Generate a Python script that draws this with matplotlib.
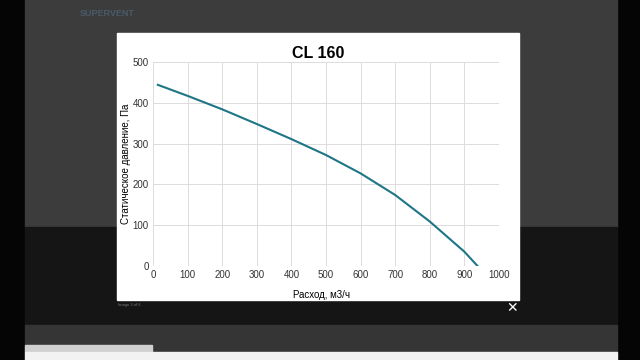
import matplotlib.pyplot as plt
from matplotlib.patches import Rectangle

# fan curve CL 160
flow = [14, 100, 200, 300, 400, 500, 600, 700, 800, 900, 938]
pressure = [444, 417, 384, 348, 311, 272, 227, 174, 109, 35, 0]

title = 'CL 160'
xlabel = 'Расход, м3/ч'
ylabel = 'Статическое давление, Па'

plt.rcParams['font.family'] = ['Liberation Sans', 'DejaVu Sans']

fig = plt.figure(figsize=(6.4, 3.6), dpi=100, facecolor='#050505')

#dimmed page behind the modal
def band(x0, y0, x1, y1, color):
    fig.patches.append(Rectangle((x0 / 640, 1 - y1 / 360), (x1 - x0) / 640, (y1 - y0) / 360,
                                 transform=fig.transFigure, color=color, zorder=-5))

band(25, 0, 617, 227, '#3c3c3c')
band(25, 227, 617, 325, '#151515')
band(25, 325, 617, 352, '#353535')
band(25, 345, 152, 352, '#cfcfcf')
band(25, 352, 617, 360, '#f2f2f2')
band(117, 33, 519, 300, '#ffffff')

fig.text(107 / 640, 1 - 14 / 360, 'SUPERVENT', color='#4a5a68', fontsize=6.5, fontweight='bold',
         ha='center', va='center')
fig.text(512 / 640, 1 - 308 / 360, '\u2715', color='white', fontsize=10, ha='center', va='center',
         family='DejaVu Sans')
fig.text(118 / 640, 1 - 305 / 360, 'Image 3 of 6', color='#777777', fontsize=3, ha='left', va='center')

ax = fig.add_axes([153 / 640, 1 - 266 / 360, 346 / 640, 204 / 360])
ax.plot(flow, pressure, color='#1d7686', linewidth=1.5, zorder=3)

ax.set_xlim(0, 1000)
ax.set_ylim(0, 500)
ax.set_xticks(range(0, 1001, 100))
ax.set_yticks(range(0, 501, 100))
ax.grid(color='#dcdcdc', linewidth=0.7)
for s in ax.spines.values():
    s.set_visible(False)
ax.tick_params(length=0, labelsize=7, colors='#333333', pad=3)

#title and x label are centred on the popup, not on the plot area
ax.set_title(title, fontsize=11.5, fontweight='bold', pad=3, x=0.477)
ax.set_xlabel(xlabel, fontsize=7, labelpad=7, x=0.488)
ax.set_ylabel(ylabel, fontsize=7, labelpad=1)

fig.savefig('out.png', dpi=100, facecolor=fig.get_facecolor())
